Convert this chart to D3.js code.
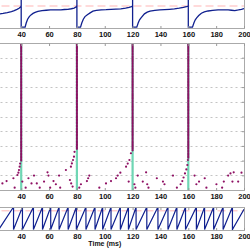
<!DOCTYPE html>
<html>
<head>
<meta charset="utf-8">
<script src="https://cdn.jsdelivr.net/npm/d3@7"></script>
<style>
  body { margin: 0; background: #fff; }
  svg { display: block; }
  .tk text { font-family: "Liberation Sans", Arial, sans-serif; font-size: 7.5px; font-weight: bold; fill: #111; }
  .xlabel { font-family: "Liberation Sans", Arial, sans-serif; font-size: 7px; font-weight: bold; fill: #111; }
</style>
</head>
<body>
<svg id="chart" width="250" height="250"></svg>
<script>
// ---- data ----
let xTicks = [40, 60, 80, 100, 120, 140, 160, 180, 200];

// top panel: membrane potential (mV)
let voltT = [24, 27, 30, 33, 35, 37, 38.5, 39.5, 40, 40, 40, 42.8, 43.6, 44.6, 45.8, 47, 48.5, 50, 52, 55, 58, 61, 65, 68.5, 71, 73.5, 76, 78, 79.3,
             80, 80, 80, 82.6, 83.5, 84.6, 85.8, 87.5, 89.5, 91.5, 94, 97.5, 101, 104.5, 108, 111.5, 115, 117.5, 119.2,
             120, 120, 120, 123, 124, 125, 126.2, 128.5, 130.5, 132.5, 136, 139.5, 143, 146.5, 150, 153.5, 156.5, 158.6,
             160, 160, 160, 163, 164, 165, 166, 167.5, 169.4, 171.5, 174.2, 177.5, 181.4, 185, 188.6, 191, 193.4, 196, 198.2, 200];
let voltV = [-57.6, -57, -56.2, -55.2, -54.4, -53.2, -52.1, -50.8, -50, -30, -70, -70, -66, -62.5, -60, -58.4, -57, -56, -55.1, -54.4, -54, -53.7, -53.6, -53.6, -53.3, -53.1, -52.6, -52, -51,
             -50, -30, -70, -70, -66, -62.5, -60, -58.2, -56.5, -54.8, -54.1, -53.7, -53.5, -53.1, -53, -52.8, -52.1, -51.3, -50.6,
             -50, -30, -70, -70, -66, -63, -61, -57.4, -55.8, -54.8, -54.1, -53.7, -53.4, -53.1, -52.7, -52.1, -51.4, -50.7,
             -50, -30, -70, -70, -66, -63, -61.2, -59, -56.8, -55.5, -54.7, -54.1, -53.7, -53.6, -53.7, -54, -54.3, -53.7, -53.1, -52.4];
let vThreshold = -50;

// middle panel: raster
let spikeTimes = [40, 80, 120, 160];
let burstFrom = [20, 28, 27, 22];   // lowest neuron index in each synchronous column
let nNeurons = 100;
let rasterT = [26.5, 29.5, 34.4, 35.3, 37.3, 38, 38.4, 38.9, 39.2,
               40.8, 43.2, 45.2, 47.4, 49.2, 51.2, 53.3, 56.4, 58.9, 59.6, 60.8, 63.2, 64.9, 67.2, 68, 72.1, 75.7, 76.4, 77.2, 77.9, 78.3, 75, 75.9, 76.9,
               81.7, 82.9, 87.2, 88.1, 88.9, 96.1, 100.9, 104.5, 108.1, 109.3, 111.2,
               115.3, 116.5, 117.7, 118.8, 117.2,
               121.3, 122, 123.7, 127.3, 129.7, 130.5, 131.4, 137.4, 141.8, 142.9, 149, 151.8, 154.5, 155.7, 156.6, 157.6, 158.6, 159.3, 159.7,
               164.5, 165.8, 167.7, 171.8, 173, 180.2, 184.3, 185.5, 188.6, 190.3, 191.7, 192.6, 195.8, 198.2];
let rasterN = [4.5, 6.1, 8, 1.6, 10.2, 11.8, 13.6, 15.9, 18,
               5.7, 1.6, 8, 4.5, 9.8, 4.5, 1.6, 5.7, 12, 9.8, 1.6, 6.1, 3.9, 9.8, 1.6, 13.6, 15.9, 18.1, 20.4, 22.7, 26, 6.8, 4.5, 2.3,
               1.6, 3.9, 6.1, 8, 9.8, 1.6, 4.5, 6.1, 8, 9.8, 11.8,
               15.9, 18, 20.4, 25, 5.7,
               3.9, 1.6, 9.8, 5.7, 12, 3.9, 1.6, 8, 5.7, 3.9, 9.8, 1.6, 3.9, 6.1, 8.5, 11.3, 14, 17, 20.4,
               9.8, 3.9, 5.7, 8, 1.6, 3.9, 1.6, 5.7, 9.8, 11.3, 5.7, 12, 5.7, 11.8];
let gridN = [10, 20, 30, 40, 50, 60, 70, 80, 90];

// bottom panel: phase variable
let phaseResets = [23.9, 34.5, 40.9, 48.8, 55.3, 61.2, 67.2, 73.7, 79.6, 86.5, 93, 98.5, 104.5, 111.2, 117,
                   122.5, 130.2, 138.2, 145.4, 151.8, 158, 165.8, 171.7, 178.2, 185, 191.7];
let phaseEnd = 0.9;          // value reached at t = 200
let phaseThreshold = 0.83;

// ---- layout ----
const svg = d3.select("#chart");
const colBlue = "#10208f", colDot = "#8e1063", colCyan = "#6fd6b4", colFrame = "#aaaaaa";
const right = 244;

const x = d3.scaleLinear().domain([0, 200]).range([-34.5, right]);
const yV = d3.scaleLinear().domain([-70, -50]).range([27.2, 6]);
const yN = d3.scaleLinear().domain([0, nNeurons]).range([190, 43]);
const yP = d3.scaleLinear().domain([0, 1]).range([229.5, 207]);

function clip(id, y0, y1) {
  svg.append("clipPath").attr("id", id).append("rect")
    .attr("x", x(0)).attr("y", y0).attr("width", right - x(0)).attr("height", y1 - y0);
}
clip("cTop", -50, 28);
clip("cMid", 43, 190);
clip("cBot", 207, 230);

function xAxis(yPos, labels, dir) {
  let ax = (dir === "top" ? d3.axisTop(x) : d3.axisBottom(x))
    .tickValues(xTicks).tickSizeInner(-2.5).tickSizeOuter(0).tickPadding(3);
  if (!labels) ax.tickFormat("");
  let g = svg.append("g").attr("class", "tk").attr("transform", "translate(0," + yPos + ")").call(ax);
  g.select(".domain").remove();
  g.selectAll("line").attr("stroke", "#999");
}

function frameLine(x1, y1, x2, y2) {
  svg.append("line").attr("x1", x1).attr("y1", y1).attr("x2", x2).attr("y2", y2)
    .attr("stroke", colFrame).attr("stroke-width", 1);
}

// ---- top panel ----
svg.append("line").attr("x1", x(0)).attr("x2", right).attr("y1", yV(vThreshold)).attr("y2", yV(vThreshold))
  .attr("stroke", "#ffb6b6").attr("stroke-width", 1.2).attr("stroke-dasharray", "8,4");
svg.append("path")
  .datum(d3.zip(voltT, voltV))
  .attr("clip-path", "url(#cTop)")
  .attr("fill", "none").attr("stroke", colBlue).attr("stroke-width", 1.3)
  .attr("d", d3.line().x(d => x(d[0])).y(d => yV(d[1])));
frameLine(x(0), 28.5, right + 0.5, 28.5);
frameLine(right + 0.5, -1, right + 0.5, 28.5);
xAxis(28.5, true, "bottom");

// ---- middle panel ----
svg.append("g").selectAll("line").data(gridN).join("line")
  .attr("x1", x(0)).attr("x2", right).attr("y1", d => Math.round(yN(d)) + 0.5).attr("y2", d => Math.round(yN(d)) + 0.5)
  .attr("stroke", "#c4c4c4").attr("stroke-width", 1).attr("stroke-dasharray", "2,3");

const mid = svg.append("g").attr("clip-path", "url(#cMid)");
mid.selectAll("line.sp").data(spikeTimes).join("line").attr("class", "sp")
  .attr("x1", d => x(d)).attr("x2", d => x(d)).attr("y1", yN(0)).attr("y2", yN(nNeurons))
  .attr("stroke", colCyan).attr("stroke-width", 2.2);

let burstDots = [];
spikeTimes.forEach((t, i) => {
  d3.range(burstFrom[i], nNeurons + 1).forEach(n => burstDots.push([t, n]));
});
let dots = d3.zip(rasterT, rasterN).concat(burstDots);
mid.selectAll("circle").data(dots).join("circle")
  .attr("cx", d => x(d[0])).attr("cy", d => yN(d[1])).attr("r", 1.1)
  .attr("fill", colDot);

frameLine(x(0), 43.5, right + 0.5, 43.5);
frameLine(x(0), 190.5, right + 0.5, 190.5);
frameLine(right + 0.5, 43.5, right + 0.5, 190.5);
xAxis(190.5, true, "bottom");
xAxis(43.5, false, "top");
let gy = svg.append("g").attr("transform", "translate(" + (right + 0.5) + ",0)")
  .call(d3.axisRight(yN).tickValues(gridN).tickSizeInner(-2.5).tickSizeOuter(0).tickFormat(""));
gy.select(".domain").remove();
gy.selectAll("line").attr("stroke", "#999");

// ---- bottom panel ----
svg.append("line").attr("x1", x(0)).attr("x2", right).attr("y1", yP(phaseThreshold)).attr("y2", yP(phaseThreshold))
  .attr("stroke", "#ffb6b6").attr("stroke-width", 1).attr("stroke-dasharray", "8,4");
let saw = [[phaseResets[0], 0]];
for (let i = 1; i < phaseResets.length; i++) {
  saw.push([phaseResets[i], 1]);
  saw.push([phaseResets[i], 0]);
}
saw.push([200, phaseEnd]);
svg.append("path").datum(saw)
  .attr("clip-path", "url(#cBot)")
  .attr("fill", "none").attr("stroke", colBlue).attr("stroke-width", 1.2)
  .attr("d", d3.line().x(d => x(d[0])).y(d => yP(d[1])));

frameLine(x(0), 207.5, right + 0.5, 207.5);
frameLine(x(0), 230.5, right + 0.5, 230.5);
frameLine(right + 0.5, 207.5, right + 0.5, 230.5);
xAxis(230.5, true, "bottom");
xAxis(207.5, false, "top");

svg.append("text").attr("class", "xlabel")
  .attr("x", x(100)).attr("y", 246).attr("text-anchor", "middle")
  .text("Time (ms)");
</script>
</body>
</html>
